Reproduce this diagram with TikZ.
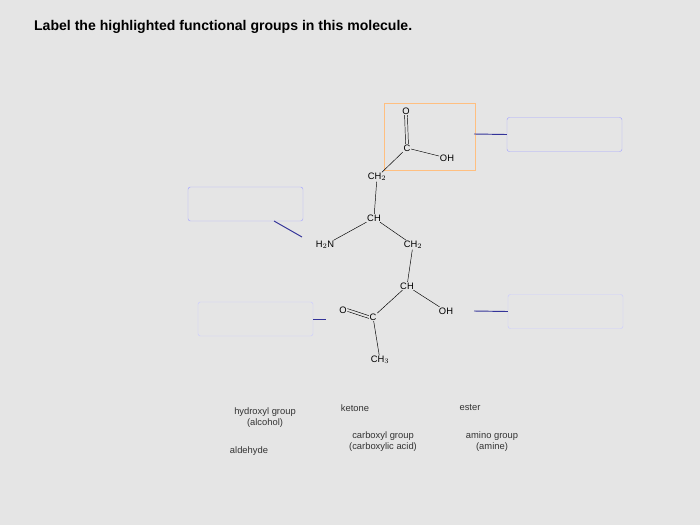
\documentclass[tikz,border=0pt]{standalone}
\usepackage{fontspec}
\setmainfont{Liberation Sans}
\usetikzlibrary{positioning}

\begin{document}
\begin{tikzpicture}
    [
    x=0.03cm,y=-0.03cm,
    atom/.style={inner sep=0.5pt,font=\footnotesize},
    answer/.style={draw=blue!35,rounded corners=2pt,minimum width=3.45cm,minimum height=1.02cm,inner sep=0pt},
    lead/.style={blue!50!black!80,thick},
    bank/.style={font=\footnotesize,align=center,inner sep=0pt,text=black!80},
    ]
    \fill[black!10] (0,0) rectangle (700,525);
    \node (title) at (30,27) [anchor=west,font=\bfseries\large] {Label the highlighted functional groups in this molecule.};

    % highlighted group
    \node (hl) at (429.5,136.5) [draw=orange!50,thick,minimum width=2.73cm,minimum height=2.01cm,inner sep=0pt] {};

    % atoms
    \node (o1) at (406,111) [atom] {O};
    \node (c1) at (407,148) [atom] {C};
    \node (oh1) at (447,158) [atom] {OH};
    \node (ch2a) at (377,177) [atom] {CH$_2$};
    \node (ch1) at (374,218) [atom] {CH};
    \node (nh2) at (325,245) [atom] {H$_2$N};
    \node (ch2b) at (413,245) [atom] {CH$_2$};
    \node (ch2) at (407,286) [atom] {CH};
    \node (oh2) at (446,311) [atom] {OH};
    \node (c2) at (373,317) [atom] {C};
    \node (o2) at (343,310) [atom] {O};
    \node (ch3) at (380,360) [atom] {CH$_3$};

    % bonds
    \draw ([xshift=-1.2pt]o1.south) to ([xshift=-1.2pt]c1.north);
    \draw ([xshift=1.2pt]o1.south) to ([xshift=1.2pt]c1.north);
    \draw (c1) to (oh1);
    \draw (c1) to (ch2a);
    \draw (ch2a) to (ch1);
    \draw (ch1) to (nh2);
    \draw (ch1) to (ch2b);
    \draw (ch2b) to (ch2);
    \draw (ch2) to (oh2);
    \draw (ch2) to (c2);
    \draw ([yshift=1.2pt]o2.east) to ([yshift=1.2pt]c2.west);
    \draw ([yshift=-1.2pt]o2.east) to ([yshift=-1.2pt]c2.west);
    \draw (c2) to (ch3);

    % answer boxes
    \node (b1) at (564.5,134.5) [answer] {};
    \node (b2) at (245.5,204) [answer] {};
    \node (b3) at (255.5,319) [answer,draw=blue!20] {};
    \node (b4) at (565.5,311.5) [answer,draw=blue!20] {};
    \coordinate (p1) at (474,134);
    \coordinate (p2) at (274,221);
    \coordinate (p2e) at (302,237);
    \coordinate (p3) at (326,319);
    \coordinate (p4) at (474,311);
    \draw[lead] (p1) to (b1.west);
    \draw[lead] (p2) to (p2e);
    \draw[lead] (b3.east) to (p3);
    \draw[lead] (p4) to (b4.west);

    % word bank
    \node (w1) at (265,418) [bank] {hydroxyl group\\(alcohol)};
    \node (w2) at (355,408) [bank] {ketone};
    \node (w3) at (470,408) [bank] {ester};
    \node (w4) at (249,451) [bank] {aldehyde};
    \node (w5) at (383,442) [bank] {carboxyl group\\(carboxylic acid)};
    \node (w6) at (492,442) [bank] {amino group\\(amine)};
\end{tikzpicture}
\end{document}
